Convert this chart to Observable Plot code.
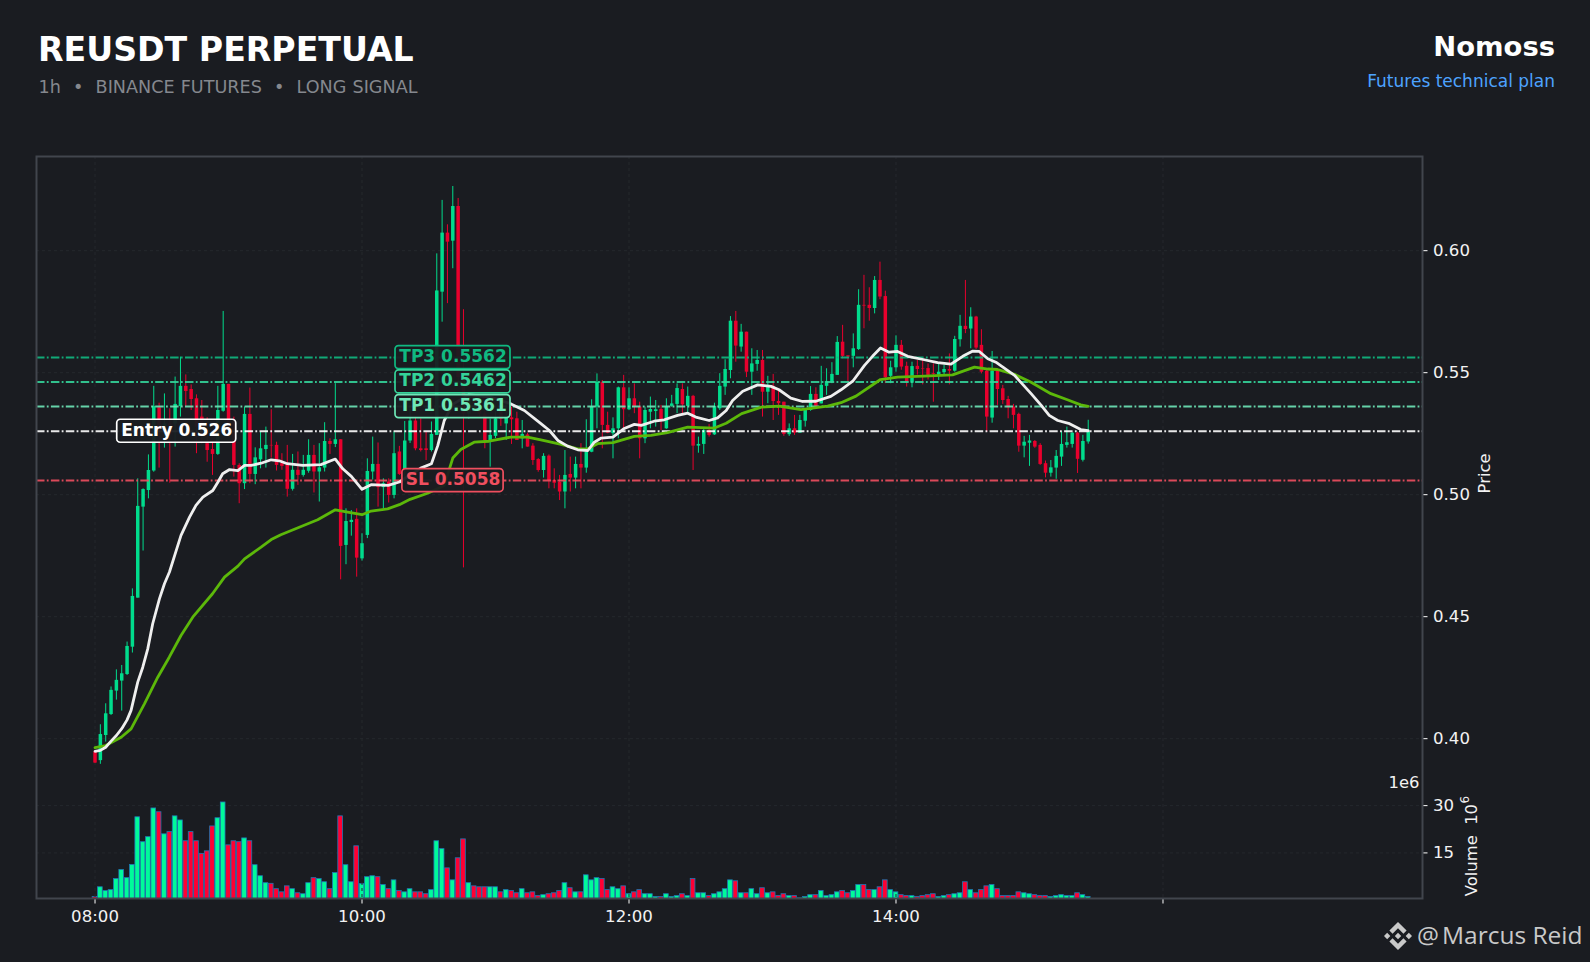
<!DOCTYPE html>
<html>
<head>
<meta charset="utf-8">
<script src="https://cdn.jsdelivr.net/npm/d3@7"></script>
<script src="https://cdn.jsdelivr.net/npm/@observablehq/plot@0.6"></script>
<style>
  html,body{margin:0;padding:0;background:#1a1c21;width:1590px;height:962px;overflow:hidden;font-family:"DejaVu Sans",sans-serif}
  #stage{position:relative;width:1590px;height:962px}
  #stage>div,#stage>svg{position:absolute}
  .plot{left:0;top:150px}
  #title{left:38px;top:30px;font-size:33.2px;font-weight:700;color:#fff;line-height:40px;white-space:nowrap}
  #sub{left:38.5px;top:75.5px;font-size:17.6px;word-spacing:.5px;color:#85888e;line-height:22px;white-space:pre}
  #brand{right:35px;top:29px;font-size:27.4px;font-weight:700;color:#fff;line-height:36px}
  #tag{right:35px;top:70px;font-size:17px;color:#4da3ff;line-height:22px}
  #at,#mark{top:918px;font-family:"Open Sans",sans-serif;font-size:24.5px;color:#c9c9c9;line-height:34px;white-space:pre}
  #at{left:1417px}
  #mark{left:1442px}
  #logo{left:1384px;top:922px}
</style>
</head>
<body>
<div id="stage">
  <div id="title">REUSDT PERPETUAL</div>
  <div id="sub">1h  •  BINANCE FUTURES  •  LONG SIGNAL</div>
  <div id="brand">Nomoss</div>
  <div id="tag">Futures technical plan</div>
  <div class="plot" id="volumePanel"></div>
  <div class="plot" id="pricePanel"></div>
  <svg id="logo" width="28" height="28" viewBox="0 0 126.61 126.61" fill="#c9c9c9">
    <path d="M38.73 53.2l24.59-24.58 24.6 24.6 14.3-14.31L63.32 0 24.43 38.9zM0 63.31l14.3-14.31 14.31 14.31-14.31 14.3zM38.73 73.41l24.59 24.59 24.6-24.6 14.31 14.29-38.9 38.91-38.91-38.88zM98 63.31l14.3-14.31 14.31 14.31-14.31 14.3zM77.83 63.3L63.32 48.78 52.59 59.51l-1.24 1.23-2.54 2.54 14.51 14.5 14.51-14.47z"/>
  </svg>
  <div id="at">@</div>
  <div id="mark">Marcus Reid</div>
</div>
<script>
const opens = [
.3945,.3910,.4013,.4099,.4195,.4236,.4263,.4375,.4576,.4949,
.5017,.5097,.5356,.5262,.5290,.5290,.5361,.5444,.5431,.5393,
.5318,.5209,.5185,.5165,.5342,.5452,.5300,.5120,.5045,.5329,
.5083,.5143,.5185,.5202,.5202,.5127,.5120,.5022,.5100,.5079,
.5096,.5161,.5093,.5109,.5218,.5206,.5225,.4792,.4886,.4899,
.4737,.4833,.5093,.5124,.5029,.5052,.4997,.5175,.5100,.5220,
.5302,.5188,.5188,.5181,.5243,.5830,.6072,.6039,.6181,.5480,
.5330,.5400,.5370,.5330,.5222,.5239,.5340,.5290,.5315,.5311,
.5229,.5245,.5199,.5144,.5099,.5158,.5058,.5051,.5011,.5083,
.5068,.5124,.5109,.5174,.5359,.5461,.5284,.5250,.5270,.5438,
.5348,.5393,.5359,.5229,.5338,.5341,.5349,.5270,.5362,.5370,
.5431,.5362,.5403,.5199,.5206,.5263,.5245,.5352,.5441,.5509,
.5711,.5605,.5666,.5502,.5534,.5550,.5420,.5444,.5382,.5379,
.5246,.5270,.5252,.5301,.5345,.5411,.5372,.5444,.5461,.5489,
.5625,.5569,.5567,.5595,.5776,.5776,.5763,.5878,.5812,.5485,
.5520,.5612,.5526,.5457,.5526,.5517,.5517,.5496,.5490,.5500,
.5513,.5506,.5635,.5690,.5679,.5728,.5612,.5506,.5314,.5506,
.5434,.5390,.5359,.5329,.5199,.5211,.5218,.5202,.5127,.5088,
.5109,.5154,.5202,.5206,.5252,.5141,.5216];
const closes = [
.3900,.4017,.4102,.4198,.4239,.4266,.4378,.4583,.4952,.5021,
.5099,.5362,.5260,.5290,.5245,.5370,.5444,.5423,.5390,.5277,
.5250,.5181,.5165,.5345,.5452,.5270,.5120,.5045,.5329,.5083,
.5151,.5188,.5202,.5200,.5120,.5116,.5022,.5100,.5079,.5100,
.5161,.5093,.5110,.5218,.5206,.5225,.4788,.4890,.4895,.4740,
.4799,.5095,.5124,.5029,.5045,.4997,.5168,.5083,.5220,.5302,
.5188,.5181,.5181,.5247,.5835,.6072,.6035,.6181,.5480,.5330,
.5400,.5370,.5330,.5222,.5243,.5311,.5310,.5320,.5307,.5222,
.5247,.5195,.5140,.5099,.5157,.5058,.5047,.5011,.5079,.5068,
.5124,.5109,.5174,.5359,.5461,.5284,.5252,.5270,.5438,.5348,
.5393,.5359,.5229,.5345,.5349,.5348,.5301,.5359,.5372,.5435,
.5368,.5403,.5199,.5206,.5263,.5243,.5362,.5444,.5513,.5711,
.5609,.5666,.5502,.5536,.5550,.5420,.5448,.5382,.5373,.5247,
.5270,.5252,.5304,.5345,.5411,.5362,.5448,.5464,.5493,.5624,
.5567,.5564,.5598,.5776,.5773,.5763,.5878,.5810,.5479,.5520,
.5612,.5523,.5461,.5525,.5513,.5515,.5489,.5493,.5502,.5513,
.5506,.5636,.5690,.5677,.5728,.5601,.5502,.5318,.5506,.5431,
.5386,.5356,.5325,.5199,.5215,.5220,.5195,.5124,.5088,.5110,
.5157,.5206,.5213,.5252,.5145,.5218,.5259];
const highs = [
.3950,.4057,.4143,.4212,.4282,.4300,.4396,.4614,.5065,.5024,
.5163,.5444,.5375,.5413,.5352,.5482,.5564,.5491,.5450,.5409,
.5386,.5315,.5215,.5444,.5751,.5452,.5318,.5127,.5359,.5437,
.5192,.5256,.5277,.5348,.5215,.5168,.5202,.5165,.5175,.5161,
.5225,.5202,.5209,.5295,.5229,.5455,.5225,.4942,.4935,.4942,
.4840,.5147,.5236,.5212,.5065,.5065,.5257,.5198,.5300,.5350,
.5320,.5311,.5257,.5298,.5987,.6206,.6106,.6263,.6214,.5758,
.5420,.5410,.5390,.5345,.5310,.5340,.5380,.5370,.5359,.5338,
.5304,.5252,.5209,.5148,.5168,.5163,.5106,.5079,.5181,.5154,
.5154,.5209,.5307,.5389,.5495,.5468,.5338,.5315,.5441,.5489,
.5438,.5454,.5379,.5359,.5400,.5386,.5366,.5393,.5407,.5454,
.5454,.5441,.5407,.5236,.5274,.5288,.5375,.5496,.5553,.5730,
.5751,.5698,.5666,.5598,.5591,.5591,.5485,.5493,.5427,.5379,
.5290,.5325,.5325,.5352,.5443,.5438,.5526,.5516,.5541,.5648,
.5694,.5569,.5659,.5840,.5899,.5848,.5894,.5953,.5834,.5547,
.5651,.5632,.5543,.5543,.5550,.5550,.5536,.5536,.5539,.5530,
.5577,.5649,.5735,.5878,.5766,.5731,.5676,.5509,.5587,.5510,
.5448,.5403,.5370,.5334,.5239,.5243,.5222,.5209,.5138,.5140,
.5181,.5257,.5277,.5254,.5256,.5243,.5305];
const lows = [
.3898,.3895,.3986,.4095,.4158,.4113,.4259,.4351,.4576,.4769,
.4983,.5092,.5109,.5191,.5047,.5195,.5318,.5361,.5345,.5168,
.5209,.5133,.5079,.5161,.5338,.5250,.5072,.4963,.5021,.5045,
.5041,.5106,.5109,.5150,.5097,.5100,.4990,.5015,.5038,.5072,
.5088,.5007,.4970,.5093,.5165,.5193,.4651,.4713,.4830,.4662,
.4728,.4820,.5060,.4949,.4943,.4966,.4983,.5079,.5050,.5210,
.5180,.5175,.5140,.5175,.5243,.5707,.5783,.5926,.5450,.4700,
.5310,.5350,.5320,.5188,.5113,.5230,.5280,.5222,.5206,.5222,
.5188,.5195,.5120,.5092,.5068,.5024,.5024,.4976,.4942,.5011,
.5024,.5024,.5088,.5172,.5270,.5188,.5250,.5147,.5229,.5263,
.5345,.5332,.5147,.5209,.5270,.5277,.5263,.5268,.5358,.5332,
.5332,.5332,.5099,.5170,.5165,.5236,.5243,.5345,.5407,.5475,
.5543,.5584,.5480,.5407,.5506,.5318,.5373,.5304,.5325,.5239,
.5239,.5243,.5252,.5277,.5342,.5352,.5372,.5407,.5455,.5489,
.5557,.5448,.5520,.5591,.5680,.5711,.5741,.5799,.5455,.5455,
.5502,.5510,.5441,.5438,.5490,.5450,.5470,.5379,.5468,.5491,
.5450,.5502,.5605,.5660,.5598,.5595,.5495,.5256,.5293,.5366,
.5370,.5311,.5270,.5174,.5151,.5116,.5190,.5120,.5069,.5072,
.5063,.5116,.5191,.5191,.5087,.5134,.5207];
const volumes = [
1,4.1,2.9,3.2,6.7,9.6,7,11.2,26.3,18.4,
20,29.1,27.9,20.9,21.6,26.6,25.3,18.7,21.6,18.7,
14.7,15.5,23.4,26,31,17.4,18.7,18.4,19.6,18.7,
11.1,7.6,5.4,5.2,3.5,2.5,4.4,3.5,2.2,1.9,
5.4,7,6.7,5.7,3.5,8.6,26.6,11.1,5.7,17.1,
5.1,7.3,7.6,7.3,4.8,3.5,6.3,2.9,2.5,3.5,
2.5,2.5,1.9,3.2,18.7,16.2,10.1,6.3,13.3,19.3,
5.4,4.4,4.1,4.1,4.1,4.1,2.5,3.2,2.9,2.2,
3.5,2.2,2.5,1.3,1.6,1.9,2.2,2.9,5.4,3.8,
2.5,2.5,7.9,6.3,7,6.7,3.2,4.1,3.5,4.4,
1.9,2.5,3.2,1.9,1.9,1,1,1.9,1,1.3,
1.9,1.3,6.7,2.2,2.2,1.3,1.9,2.5,3.5,6.3,
6,2.2,2.2,3.5,1.9,3.8,2.2,2.5,1.3,1.9,
1.3,1.3,.6,1,1.6,1.6,2.9,1.3,1.6,2.5,
2.9,2.2,2.9,4.8,4.8,3.2,3.2,4.1,6.3,3.2,
2.5,1.6,1.3,1.3,1,1.3,1.6,1.9,1,1.3,
1.6,1.9,2.2,5.7,3.2,2.2,3.2,4.4,4.8,3.5,
1.3,1.3,1.3,2.5,2.2,1.9,1.6,1.3,1.3,1,
1.3,1.6,1.3,1.3,2.2,1.6,1];

const whiteIdx = [0,1,2,3,4,5,6,6.75,8,8.94,9.875,10.8,12.06,13,13.94,15.2,16.1,17.7,18.9,20.2,22.06,23,23.9,25.2,26.75,28,29.25,31.1,33,34.5,36,38.9,42.3,45,46.4,48,50,51.7,54.9,57,61,63,64.2,65.4,67,70,74,77.9,80.4,83.5,85.1,86.7,88.5,90.4,92.3,93.5,94.8,97,99,101,102.3,104.7,106.6,109.1,111,112.5,115,116.6,118.2,119.4,121.3,124.1,126.6,128.1,130.3,132.5,135,137.8,139.7,141.9,144.1,145.6,147.1,148.7,150.3,152.2,155.3,157.8,160.3,162.5,164.3,165.6,167.2,168.7,172.2,175.3,177.2,178.7,180.3,182.5,184.6,186];
const whiteVal = [.3948,.3952,.3965,.3990,.4013,.4041,.4077,.4116,.4232,.4293,.4368,.4471,.4573,.4635,.4683,.4771,.4833,.4908,.4956,.4990,.5017,.5051,.5086,.5103,.5099,.5120,.5120,.5129,.5143,.5139,.5127,.5120,.5123,.5146,.5106,.5075,.5022,.5041,.5038,.5052,.5109,.5127,.5202,.5304,.5370,.5410,.5400,.5372,.5345,.5291,.5263,.5222,.5199,.5184,.5181,.5215,.5232,.5236,.5270,.5288,.5284,.5301,.5307,.5325,.5334,.5318,.5304,.5315,.5345,.5386,.5424,.5450,.5444,.5430,.5396,.5382,.5383,.5403,.5430,.5465,.5530,.5567,.5601,.5584,.5587,.5567,.5553,.5541,.5535,.5567,.5588,.5587,.5557,.5543,.5489,.5414,.5366,.5325,.5304,.5291,.5267,.5262];
const greenIdx = [0,2,4.9,6.75,9.25,11.75,13.9,16.1,18.3,22,24.25,26.75,28,31.1,33,34.8,41.7,45,47.3,50,51.7,54.8,57,59,62.4,65.4,67,68.5,71,73.8,77.9,81,83.5,87.3,90.4,92.3,94.1,97,101,104.1,107.2,111,116,118.2,121.1,124.8,128.1,132.2,137.2,139.7,142.5,147.1,150.3,155.3,160.6,164.7,167.2,169,172.2,175.3,179,182.1,184.6,186];
const greenVal = [.3963,.3972,.4006,.4040,.4143,.4252,.4334,.4423,.4498,.4594,.4662,.4707,.4737,.4785,.4816,.4836,.4897,.4938,.4929,.4918,.4933,.4942,.4959,.4981,.5007,.5038,.5150,.5185,.5215,.5219,.5236,.5236,.5225,.5206,.5188,.5188,.5209,.5213,.5239,.5243,.5254,.5277,.5273,.5293,.5332,.5359,.5363,.5349,.5363,.5377,.5404,.5472,.5482,.5486,.5491,.5523,.5515,.5513,.5493,.5461,.5414,.5389,.5368,.5362];

const levelNames  = ["TP3","TP2","TP1","Entry","SL"];
const levelPrices = [0.5562,0.5462,0.5361,0.526,0.5058];
const levelTexts  = ["TP3 0.5562","TP2 0.5462","TP1 0.5361","Entry 0.526","SL 0.5058"];
const levelColors = ["#10b981","#34d399","#6ee7b7","#ffffff","#ef4f5f"];
const labelAt     = [67.04,67.04,67.04,15.3,67.04];
const labelHalf   = [57.5,57.5,57.5,59.5,50.6];

const priceTicks = [0.40,0.45,0.50,0.55,0.60];
const volumeTicks = [15,30];
const timeTicks = [0,50,100,150,200];
const timeLabels = ["08:00","10:00","12:00","14:00",""];

const bg = "#1a1c21", gridC = "#25282d", frameC = "#41454d";
const upC = "#00dc8c", downC = "#e8002d", volUp = "#00fa9a", volDown = "#ff0033", volEdge = "#1f77b4";
const xDomain = [-10.96, 248.6];
const idx = d3.range(opens.length);
const isUp = i => closes[i] >= opens[i];
const base = {
  width: 1590, height: 812, marginTop: 6, marginBottom: 64, marginLeft: 36, marginRight: 168,
  x: {domain: xDomain, axis: null},
  style: {background: "transparent", color: "#fff", fontFamily: "DejaVu Sans", fontSize: "16.6px"}
};

const price = Plot.plot({
  ...base,
  y: {domain: [0.3345, 0.6386], axis: null},
  marks: [
    Plot.gridX(timeTicks, {stroke: gridC, strokeOpacity: 1, strokeDasharray: "3,3"}),
    Plot.gridY(priceTicks, {stroke: gridC, strokeOpacity: 1, strokeDasharray: "3,3"}),
    Plot.ruleX(idx, {x: i => i, y1: i => lows[i], y2: i => highs[i], stroke: i => isUp(i) ? upC : downC, strokeWidth: 1, clip: true}),
    Plot.ruleX(idx, {x: i => i, y1: i => opens[i], y2: i => closes[i], stroke: i => isUp(i) ? upC : downC, strokeWidth: 3.5, clip: true}),
    Plot.ruleY(levelPrices, {y: d => d, stroke: (d, i) => levelColors[i], strokeWidth: 2, strokeOpacity: .9, strokeDasharray: "8.5,2.3,1.8,2.3"}),
    Plot.line(d3.range(greenIdx.length), {x: i => greenIdx[i], y: i => greenVal[i], stroke: "#5cb80a", strokeWidth: 2.8}),
    Plot.line(d3.range(whiteIdx.length), {x: i => whiteIdx[i], y: i => whiteVal[i], stroke: "#efefef", strokeWidth: 2.8}),
    ...levelNames.map((n, k) => Plot.rect([k], {
      x1: i => labelAt[i], x2: i => labelAt[i], y1: i => levelPrices[i], y2: i => levelPrices[i],
      insetLeft: -labelHalf[k], insetRight: -labelHalf[k], insetTop: -11.5, insetBottom: -11.5,
      rx: 3.5, fill: bg, fillOpacity: .95, stroke: levelColors[k], strokeWidth: 1.7
    })),
    Plot.text(d3.range(levelNames.length), {
      x: i => labelAt[i], y: i => levelPrices[i], text: i => levelTexts[i], fill: i => levelColors[i],
      fontWeight: 700, fontSize: 17, textAnchor: "middle", lineAnchor: "middle", dy: -1
    }),
    Plot.axisX(timeTicks, {anchor: "bottom", tickFormat: (d, i) => timeLabels[i], tickSize: 5.5, tickPadding: 6, label: null, stroke: "#fff", fill: "#f2f2f2"}),
    Plot.axisY(priceTicks, {anchor: "right", tickFormat: d3.format(".2f"), tickSize: 4.5, tickPadding: 6, label: null, stroke: "#fff", fill: "#f2f2f2"}),
    Plot.text(["Price"], {frameAnchor: "right", y: [0.5087], dx: 62, rotate: -90, textAnchor: "middle", fill: "#f2f2f2", fontSize: 16.4}),
    Plot.frame({stroke: frameC, strokeWidth: 2})
  ]
});
document.getElementById("pricePanel").append(price);

const volume = Plot.plot({
  ...base,
  y: {domain: [0.54, 235.9], axis: null},
  marks: [
    Plot.gridY(volumeTicks, {stroke: gridC, strokeOpacity: 1, strokeDasharray: "3,3"}),
    Plot.rect(idx, {
      x1: i => i - .44, x2: i => i + .44, y1: 0, y2: i => volumes[i],
      fill: i => isUp(i) ? volUp : volDown, stroke: volEdge, strokeWidth: .8, clip: true
    }),
    Plot.axisY(volumeTicks, {anchor: "right", tickSize: 4.5, tickPadding: 6, label: null, stroke: "#fff", fill: "#f2f2f2"}),
    Plot.text(["1e6"], {frameAnchor: "right", y: [37.4], dx: -3, textAnchor: "end", fill: "#f2f2f2", fontSize: 16.4}),
    Plot.text(["Volume  10"], {frameAnchor: "right", y: [15.9], dx: 49, rotate: -90, textAnchor: "middle", fill: "#f2f2f2", fontSize: 16.4}),
    Plot.text(["6"], {frameAnchor: "right", y: [31.9], dx: 43, rotate: -90, textAnchor: "middle", fill: "#f2f2f2", fontSize: 12})
  ]
});
document.getElementById("volumePanel").append(volume);
</script>
</body>
</html>
